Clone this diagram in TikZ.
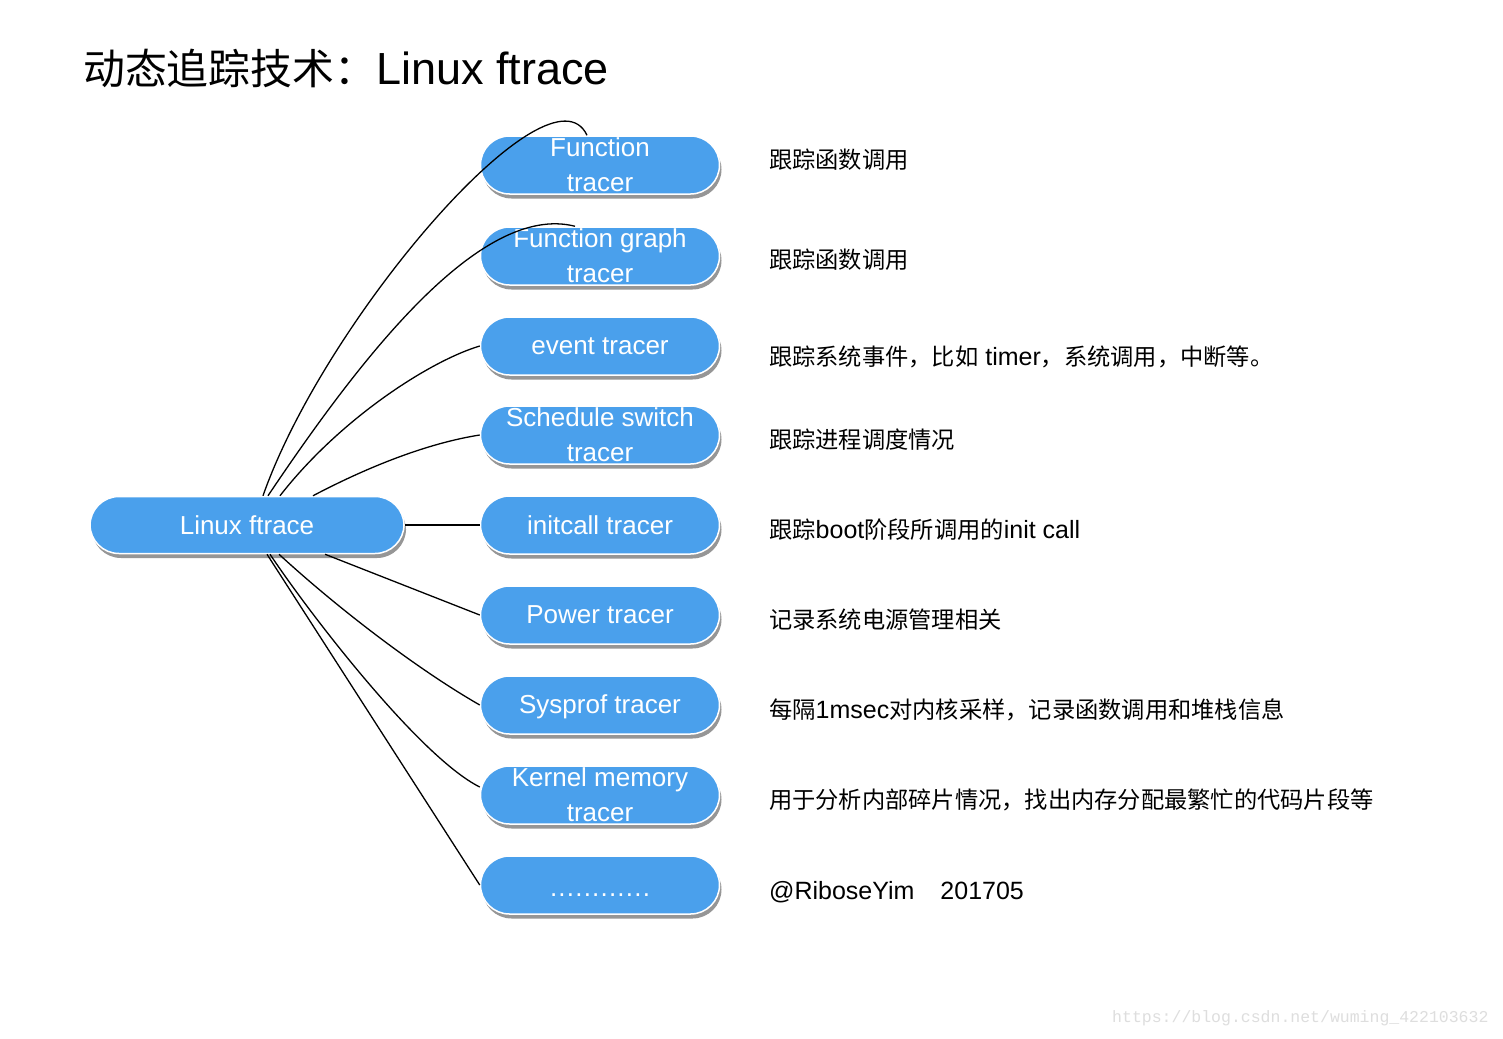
\documentclass[tikz,border=0pt]{standalone}
\usepackage{fontspec}
\setmainfont{Liberation Sans}
\newfontfamily\cjk[Scale=0.93]{Noto Sans CJK SC}
\newfontfamily\wmfont{Liberation Mono}
\usetikzlibrary{shadows,calc}
\definecolor{nodeblue}{RGB}{74,160,236}
\definecolor{wmgray}{RGB}{222,222,222}
\begin{document}
\begin{tikzpicture}[x=1pt,y=-1pt,
  pill/.style={rectangle, rounded corners=29pt, minimum width=239pt, minimum height=58pt,
    fill=nodeblue, draw=white, line width=1.5pt, inner sep=0pt,
    drop shadow={shadow xshift=2pt, shadow yshift=-4.5pt, opacity=0.55, fill=black!75}},
  ptxt/.style={text=white, font=\fontsize{26}{35}\selectfont, align=center, inner sep=0pt},
  lbl/.style={anchor=west, inner sep=0pt, font=\fontsize{25}{30}\selectfont},
  link/.style={draw=black, line width=1.3pt}]
\useasboundingbox (0,0) rectangle (1503,1038);
\fill[white] (0,0) rectangle (1503,1038);

% title
\node[anchor=west, inner sep=0pt, font=\fontsize{45}{50}\selectfont] (title) at (83,68) {{\cjk 动态追踪技术：}Linux ftrace};

% root
\node[pill, minimum width=314pt, minimum height=57pt] (lf) at (247,525) {};
\node[ptxt] (lft) at (lf.center) {Linux ftrace};

% children
\node[pill] (ft) at (600,165) {};
\node[pill] (fg) at (600,256) {};
\node[pill] (ev) at (600,346) {};
\node[pill] (sc) at (600,435) {};
\node[pill] (ic) at (600,525) {};
\node[pill] (pw) at (600,615) {};
\node[pill] (sp) at (600,705) {};
\node[pill] (km) at (600,795) {};
\node[pill] (dt) at (600,885) {};

\node[ptxt] (ftt) at (ft.center) {Function\\tracer};
\node[ptxt] (fgt) at (fg.center) {Function graph\\tracer};
\node[ptxt] (evt) at (ev.center) {event tracer};
\node[ptxt] (sct) at (sc.center) {Schedule switch\\tracer};
\node[ptxt] (ict) at (ic.center) {initcall tracer};
\node[ptxt] (pwt) at (pw.center) {Power tracer};
\node[ptxt] (spt) at ([yshift=-2pt]sp.center) {Sysprof tracer};
\node[ptxt] (kmt) at (km.center) {Kernel memory\\tracer};
\node[ptxt, anchor=base] (dtt) at ([yshift=-11pt]dt.center) {.\kern1.2pt.\kern1.2pt.\kern1.2pt.\kern1.2pt.\kern1.2pt.\kern1.2pt.\kern1.2pt.\kern1.2pt.\kern1.2pt.\kern1.2pt.\kern1.2pt.};

% connectors
\draw[link] ([xshift=16pt]lf.north) .. controls +(62,-177) and +(-37,-78) .. ([xshift=-13pt]ft.north);
\draw[link] ([xshift=21pt]lf.north) .. controls +(92,-137) and +(-95,-24) .. ([xshift=-25pt]fg.north);
\draw[link] ([xshift=33pt]lf.north) .. controls +(60,-77) and +(-50,15) .. (ev.west);
\draw[link] ([xshift=66pt]lf.north) .. controls +(57,-30) and +(-51,8) .. (sc.west);
\draw[link] (lf.east) -- (ic.west);
\draw[link] ([xshift=78pt]lf.south) -- (pw.west);
\draw[link] ([xshift=32pt]lf.south) .. controls +(61,56) and +(-61,-35) .. (sp.west);
\draw[link] ([xshift=23pt]lf.south) .. controls +(40,60) and +(-60,-30) .. ([yshift=8pt]km.west);
\draw[link] ([xshift=20pt]lf.south) -- (dt.west);

% labels
\node[lbl] (l1) at (769,160) {{\cjk 跟踪函数调用}};
\node[lbl] (l2) at (769,260) {{\cjk 跟踪函数调用}};
\node[lbl] (l3) at (769,357) {{\cjk 跟踪系统事件，比如} timer{\cjk ，系统调用，中断等。}};
\node[lbl] (l4) at (769,440) {{\cjk 跟踪进程调度情况}};
\node[lbl] (l5) at (769,530) {{\cjk 跟踪}boot{\cjk 阶段所调用的}init call};
\node[lbl] (l6) at (769,620) {{\cjk 记录系统电源管理相关}};
\node[lbl] (l7) at (769,710) {{\cjk 每隔}1msec{\cjk 对内核采样，记录函数调用和堆栈信息}};
\node[lbl] (l8) at (769,800) {{\cjk 用于分析内部碎片情况，找出内存分配最繁忙的代码片段等}};
\node[lbl] (l9) at (769,892) {@RiboseYim\hspace{26pt}201705};

% watermark
\node[anchor=west, inner sep=0pt, text=wmgray, font=\wmfont\fontsize{16.5}{20}\selectfont] (wm) at (1112,1018) {https://blog.csdn.net/wuming\_422103632};
\end{tikzpicture}
\end{document}
